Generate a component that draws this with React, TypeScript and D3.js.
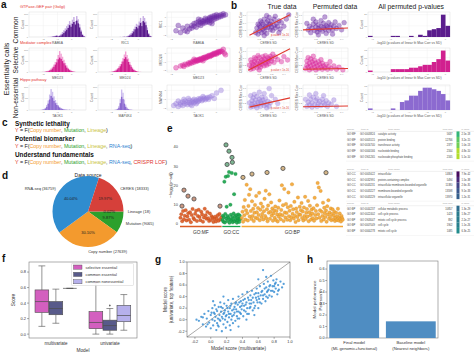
import React from 'react';
import * as d3 from 'd3';

const FONT = '"Liberation Sans", Arial, Helvetica, sans-serif';

type Pt = [number, number];
const parsePts = (s: string): Pt[] =>
  s.trim().split(/\s+/).map(p => p.split(',').map(Number) as Pt);
const parseNums = (s: string): number[] => s.trim().split(/\s+/).map(Number);

// ---------------- panel a: gene effect histograms + gene/gene scatter
const aRowTitles = ['GTPase-GEF pair (Golgi)', 'Mediator complex', 'Hippo pathway'];
const aRowCalls = ['Common', 'Selective', 'Non-essential'];
const aGeneX = ['RAB6A', 'MED23', 'TAOK1'];
const aGeneY = ['RIC1', 'MED24', 'MAP4K4'];

const rab6aDark = [0,0,0,0,0,0,0,0,0,0, 0,0,0,0,0,0,1,2,3,5, 2,4,7,12,18,25,32,40,52,45, 58,66,55,72,60,42,24,9,3,0];
const rab6aLight = [0,0,0,0,0,0,0,0,0,0, 0,0,0,1,1,2,3,4,6,8, 5,8,14,22,30,38,48,56,70,60, 76,88,70,92,78,56,32,14,5,1];
const ric1Dark = [0,0,0,0,0,0,0,0,0,0, 0,0,0,0,0,0,0,0,0,1, 0,1,3,6,10,16,24,34,44,38, 50,62,48,70,64,52,30,12,4,1];
const ric1Light = [0,0,0,0,0,0,0,0,0,0, 0,0,0,0,0,0,1,0,2,1, 2,4,7,12,18,26,36,46,58,54, 68,84,66,92,84,68,42,18,6,2];
const med23Dark = [0,0,0,0,0,0,0,0,0,0, 0,1,2,3,6,10,16,24,34,44, 58,66,60,50,40,30,20,13,8,4, 2,1,0,0,0,0,0,0,0,0];
const med23Light = [0,0,0,0,0,0,0,0,0,1, 1,2,4,6,10,16,24,34,46,60, 78,96,84,70,56,42,30,19,12,7, 4,2,1,0,0,0,0,0,0,0];
const med24Dark = [0,0,0,0,0,0,0,0,0,0, 1,2,4,7,12,18,26,36,48,60, 68,58,46,34,24,15,9,5,3,1, 0,0,0,0,0,0,0,0,0,0];
const med24Light = [0,0,0,0,0,0,0,0,1,1, 2,4,7,12,18,26,36,48,64,80, 94,78,62,46,32,21,13,8,4,2, 1,1,0,0,0,0,0,0,0,0];
const taok1Dark = [0,0,0,0,0,0,0,0,0,1, 2,6,14,28,46,62,54,40,30,22, 16,10,6,4,2,1,1,0,1,0, 0,0,0,0,0,0,0,0,0,0];
const taok1Light = [0,0,0,0,0,0,0,0,1,2, 4,10,22,42,68,92,80,60,44,32, 22,14,9,6,3,2,1,1,1,0, 0,1,0,0,0,0,0,0,0,0];
const map4k4Dark = [0,0,0,0,0,0,0,0,0,0, 0,0,0,1,3,10,30,58,48,28, 14,6,3,1,1,0,0,0,0,0, 0,0,0,0,0,0,0,0,0,0];
const map4k4Light = [0,0,0,0,0,0,0,0,0,0, 0,0,1,2,6,18,48,90,76,46, 24,11,5,2,1,1,0,0,0,0, 0,0,0,0,0,0,0,0,0,0];

const rab6aVsRic1 = parsePts(`-1.8,-1.5 -1.6,-1.7 -1.5,-1.2 -1.4,-1.5 -1.3,-1.0 -1.2,-1.3 -1.1,-0.9 -1.1,-1.2
-1.0,-0.7 -1.0,-1.0 -0.9,-1.1 -0.9,-0.6 -0.8,-0.8 -0.8,-0.5 -0.7,-0.9 -0.7,-0.6 -0.7,-0.3 -0.6,-0.7
-0.6,-0.4 -0.6,-0.5 -0.5,-0.6 -0.5,-0.3 -0.5,-0.1 -0.4,-0.5 -0.4,-0.2 -0.4,-0.4 -0.3,-0.3 -0.3,0.0
-0.3,-0.1 -0.2,-0.4 -0.2,-0.1 -0.2,0.1 -0.1,-0.2 -0.1,0.0 -0.1,0.2 0.0,-0.1 0.0,0.1 0.0,0.3 0.1,0.0
0.1,0.2 0.2,0.1 0.2,0.3 0.3,0.2 0.3,0.4 -1.7,-0.9 -0.2,-0.7 0.4,0.3 -1.3,-1.6 -0.8,-0.2 -0.3,-0.6`);
const med23VsMed24 = parsePts(`-1.6,-1.5 -1.5,-1.4 -1.45,-1.55 -1.4,-1.3 -1.3,-1.35 -1.25,-1.15 -1.2,-1.25
-1.15,-1.05 -1.1,-1.15 -1.05,-0.95 -1.0,-1.05 -0.95,-0.85 -0.9,-0.95 -0.9,-0.8 -0.85,-0.9 -0.8,-0.75
-0.8,-0.85 -0.75,-0.7 -0.7,-0.8 -0.7,-0.65 -0.65,-0.7 -0.6,-0.55 -0.6,-0.65 -0.55,-0.5 -0.5,-0.6
-0.5,-0.45 -0.45,-0.5 -0.4,-0.35 -0.4,-0.45 -0.35,-0.3 -0.3,-0.4 -0.3,-0.25 -0.25,-0.3 -0.2,-0.15
-0.2,-0.25 -0.15,-0.1 -0.1,-0.15 -0.1,0.0 -0.05,-0.05 0.0,0.05 0.0,-0.1 0.05,0.1 0.1,0.05 0.1,0.2
0.15,0.15 0.2,0.25 0.25,0.2 0.35,0.0 0.4,-0.2 0.3,0.45 -1.8,-1.7 -1.0,-0.7 -0.6,-0.9`);
const taok1VsMap4k4 = parsePts(`-1.9,-1.7 -1.8,-1.5 -1.7,-1.8 -1.6,-1.4 -1.6,-1.6 -1.5,-1.3 -1.5,-1.7 -1.4,-1.5
-1.4,-1.2 -1.3,-1.6 -1.3,-1.35 -1.2,-1.4 -1.2,-1.1 -1.15,-1.55 -1.1,-1.3 -1.05,-1.15 -1.0,-1.4 -1.0,-1.0
-0.95,-1.25 -0.9,-1.1 -0.85,-1.3 -0.8,-0.95 -0.8,-1.2 -0.75,-1.05 -0.7,-0.9 -0.65,-1.15 -0.6,-1.0
-0.55,-0.85 -0.5,-1.05 -0.45,-0.9 -0.4,-0.8 -0.35,-1.0 -0.3,-0.75 -1.7,-1.2 -1.25,-0.9 -0.9,-1.5
-0.6,-0.7 -1.45,-1.0 -1.1,-1.7 -0.2,-0.6 0.0,-0.3 0.2,0.0 -0.1,-0.9`);

// ---------------- panel b: CERES SD vs max correlation, true and permuted
const bTitles = ['True data', 'Permuted data', 'All permuted p-values'];
const trueCommon = parsePts(`0.17,0.12 0.18,0.25 0.19,0.08 0.2,0.32 0.2,0.18 0.21,0.27 0.22,0.4 0.22,0.12
0.23,0.22 0.23,0.35 0.24,0.5 0.24,0.16 0.25,0.3 0.25,0.26 0.26,0.4 0.26,0.1 0.27,0.46 0.27,0.26 0.28,0.34
0.28,0.55 0.29,0.2 0.29,0.36 0.3,0.28 0.3,0.44 0.31,0.18 0.32,0.32 0.32,0.5 0.33,0.25 0.34,0.38 0.35,0.3
0.36,0.45 0.37,0.22 0.38,0.4 0.4,0.3 0.42,0.5 0.21,0.45 0.19,0.36 0.26,0.6 0.33,0.58 0.24,0.04 0.36,0.12 0.44,0.62`);
const trueSelective = parsePts(`0.13,0.08 0.14,0.15 0.15,0.22 0.15,0.1 0.16,0.3 0.17,0.18 0.17,0.38 0.18,0.25
0.18,0.12 0.19,0.32 0.2,0.2 0.2,0.42 0.21,0.28 0.21,0.14 0.22,0.35 0.22,0.22 0.23,0.45 0.23,0.3 0.24,0.18
0.24,0.38 0.25,0.26 0.25,0.48 0.26,0.34 0.26,0.2 0.27,0.42 0.27,0.3 0.28,0.38 0.28,0.24 0.29,0.46 0.3,0.32
0.3,0.4 0.32,0.28 0.33,0.44 0.35,0.36 0.14,0.28 0.16,0.42 0.19,0.48 0.12,0.2 0.13,0.35 0.2,0.06 0.38,0.3
0.4,0.45 0.43,0.35 0.31,0.52`);
const trueNonEss = parsePts(`0.13,0.08 0.14,0.16 0.14,0.26 0.15,0.1 0.15,0.34 0.16,0.2 0.17,0.12 0.17,0.28
0.18,0.38 0.18,0.06 0.19,0.22 0.19,0.15 0.2,0.3 0.21,0.1 0.21,0.24 0.22,0.18 0.22,0.36 0.23,0.28 0.24,0.12
0.24,0.2 0.25,0.32 0.26,0.16 0.27,0.24 0.28,0.1 0.29,0.2 0.16,0.44 0.2,0.5 0.24,0.46 0.28,0.6 0.3,0.4
0.33,0.3 0.12,0.2 0.13,0.4 0.26,0.06 0.35,0.18`);
const permCommon = parsePts(`0.14,0.2 0.15,0.3 0.16,0.12 0.17,0.25 0.18,0.36 0.19,0.18 0.2,0.28 0.2,0.42
0.21,0.14 0.22,0.24 0.22,0.34 0.23,0.2 0.24,0.3 0.24,0.46 0.25,0.16 0.26,0.26 0.26,0.38 0.27,0.22 0.28,0.32
0.28,0.1 0.29,0.28 0.3,0.4 0.3,0.18 0.31,0.26 0.32,0.34 0.33,0.2 0.34,0.3 0.35,0.42 0.36,0.24 0.38,0.32
0.13,0.38 0.18,0.5 0.27,0.56 0.33,0.08 0.4,0.2 0.42,0.4 0.22,0.06`);
const permSelective = parsePts(`0.12,0.1 0.13,0.2 0.13,0.32 0.14,0.14 0.15,0.26 0.15,0.06 0.16,0.38 0.16,0.18
0.17,0.3 0.17,0.1 0.18,0.22 0.19,0.34 0.19,0.14 0.2,0.26 0.2,0.06 0.21,0.18 0.22,0.3 0.22,0.1 0.23,0.22
0.24,0.14 0.25,0.26 0.25,0.08 0.26,0.18 0.27,0.12 0.28,0.22 0.29,0.08 0.3,0.16 0.32,0.1 0.34,0.18 0.36,0.08
0.38,0.14 0.41,0.06 0.14,0.42 0.18,0.46 0.24,0.36 0.31,0.3`);
const permNonEss = parsePts(`0.13,0.1 0.14,0.22 0.15,0.14 0.16,0.3 0.17,0.08 0.17,0.2 0.18,0.36 0.19,0.14
0.2,0.26 0.21,0.1 0.21,0.32 0.22,0.18 0.23,0.24 0.24,0.12 0.25,0.3 0.26,0.2 0.27,0.14 0.28,0.26 0.29,0.1
0.3,0.2 0.32,0.16 0.15,0.42 0.2,0.46 0.26,0.4 0.34,0.28 0.12,0.3 0.36,0.1`);
const trueFits = [[0.12, 0.05, 0.45, 0.62], [0.11, 0.05, 0.45, 0.68], [0.12, 0.08, 0.45, 0.34]];
const permFits = [[0.1, 0.2, 0.45, 0.25], [0.1, 0.08, 0.45, 0.1], [0.1, 0.09, 0.45, 0.11]];
const pHistCommon = [1,0,0,0,0,1,1,0,0,1,0,2,1,6,7,8,20,10];
const pHistSelective = [1,0,0,0,0,2,2,2,2,3,3,4,5,5,7,9,15,8];
const pHistNonEss = [1,0,0,0,0,1,0,5,6,9,9,12,14,14,13,12,10,6];

// ---------------- panel c
const cTitles = ['Synthetic lethality', 'Potential biomarker', 'Understand fundamentals'];
const cFeatures = [
  ['Copy number', 'Mutation', 'Lineage'],
  ['Copy number', 'Mutation', 'Lineage', 'RNA-seq'],
  ['Copy number', 'Mutation', 'Lineage', 'RNA-seq', 'CRISPR LOF'],
];
const featureColors: Record<string, string> = {
  'Copy number': '#f39a2e', Mutation: '#2ca02c', Lineage: '#c8c23c', 'RNA-seq': '#2f7fd0', 'CRISPR LOF': '#e0342c',
};

// ---------------- panel d
const pieSources = ['Mutation', 'Copy number', 'RNA-seq', 'CERES', 'Lineage'];
const pieCounts = [9065, 27639, 36759, 18333, 18];
const pieColors = ['#2ca02c', '#f39a2e', '#2f8ccf', '#d6403a', '#9467bd'];

// ---------------- panel e
const goGroups = ['GO:MF', 'GO:CC', 'GO:BP'];
const goColors = ['#dc5a22', '#17a34a', '#f4a532'];
const goOrderSpan = [[0, 1380], [1400, 2000], [2040, 5400]];
const goMF = parseNums(`3.2 5.1 1.4 6.8 2.5 4.3 7.2 1.8 3.9 5.6 2.2 6.1 0.9 4.7 7.8 3.1 2.4 5.3 6.9 1.6
4.1 7.4 3.6 2.0 6.4 5.0 1.2 3.4 7.9 4.5 2.7 6.2 3.0 1.5 5.4 2.1 4.0 3.3 1.1 2.6 3.8 1.3 2.9 4.6 1.7 5.2 2.3 3.5`);
const goCC = parseNums(`2.1 4.3 1.2 3.5 22 0.8 5.2 24.5 2.8 9 1.5 4.1 25 3.2 27 0.6 2.4 10 4.8 1.9 26.5
3.7 0.9 2.6 5.5 15.5 1.4 3.9 26 2.2 4.6 0.7 3.1 1.8 5 2.9 1.1 4.4 2.5`);
const goBP = parseNums(`3.1 6.4 1.2 8.8 4.5 12.5 2.3 7.1 20.4 5.6 1.8 9.4 15.2 3.9 18.1 6.7 2.6 11.8 4.2 7.9
1.5 5.8 9.9 3.3 14.6 6.1 2.9 8.3 4.7 16.2 1.9 7.4 10.6 3.6 5.2 8.9 2.4 6.6 13.1 4.1
17.3 3.0 7.7 1.4 9.6 5.9 15.4 2.7 6.3 11.2 4.4 8.1 1.7 5.5 7.0 3.2 9.1 2.1 6.8 4.9
1.3 8.5 3.8 12.2 5.1 2.5 7.3 20.1 4.6 9.8 1.6 18.2 6.0 3.4 10.4 5.7 2.2 8.7 16.4 4.0
6.9 1.9 9.3 3.5 20.6 5.3 7.6 2.8 11.5 4.3 1.1 8.0 6.2 3.7 13.8 2.0 5.0 9.0 4.8 7.2
10.9 3.1 6.5 1.8 8.6 4.2 14.1 2.6 5.9 7.8 3.9 12.0 1.4 6.1 9.5 4.5 2.3 7.5 5.4 3.0
8.2 1.7 13.6 4.7 6.7 2.9 9.7 21.3 5.1 19.0 3.3 7.1 17.2 1.5 6.3 4.1 11.1 2.4 8.4 5.6
3.6 7.0 1.2 9.2 4.9 12.3 2.7 6.0 3.8 8.1 1.9 5.2 7.6 2.5 4.4 6.4 1.6 3.2 5.8 2.1
4.0 7.9 1.8 3.4 5.5 2.6 1.3 4.2 3.0 2.2`);
// source, term id, term name, term size, adjusted p-value, term order
const goTableMF: [string, string, string, number, string, number][] = [
  ['GO:MF', 'GO:0003824', 'catalytic activity', 5637, '2.5e-18', 132],
  ['GO:MF', 'GO:0005515', 'protein binding', 12766, '3.2e-15', 265],
  ['GO:MF', 'GO:0016740', 'transferase activity', 2377, '1.0e-13', 464],
  ['GO:MF', 'GO:0000166', 'nucleotide binding', 2164, '4.8e-10', 66],
  ['GO:MF', 'GO:1901265', 'nucleoside phosphate binding', 2165, '5.1e-10', 1325],
];
const goTableCC: [string, string, string, number, string, number][] = [
  ['GO:CC', 'GO:0005622', 'intracellular', 14803, '7.9e-42', 1524],
  ['GO:CC', 'GO:0032991', 'protein-containing complex', 5494, '1.5e-38', 1623],
  ['GO:CC', 'GO:0043231', 'intracellular membrane-bounded organelle', 11380, '2.6e-35', 1723],
  ['GO:CC', 'GO:0043227', 'membrane-bounded organelle', 13598, '9.1e-33', 1735],
  ['GO:CC', 'GO:0043229', 'intracellular organelle', 13970, '1.2e-31', 1560],
];
const goTableBP: [string, string, string, number, string, number][] = [
  ['GO:BP', 'GO:0044237', 'cellular metabolic process', 10857, '1.3e-29', 3411],
  ['GO:BP', 'GO:0022402', 'cell cycle process', 1423, '1.8e-27', 2883],
  ['GO:BP', 'GO:1903047', 'mitotic cell cycle process', 892, '2.2e-27', 4837],
  ['GO:BP', 'GO:0007049', 'cell cycle', 1902, '1.1e-26', 2385],
  ['GO:BP', 'GO:0000278', 'mitotic cell cycle', 1085, '6.3e-25', 2086],
];

// ---------------- panel f: [lower whisker, q1, median, q3, upper whisker]
const fModels = ['multivariate', 'univariate'];
const fTypes = ['selective essential', 'common essential', 'common nonessential'];
const fTypeColors = ['#d35fbf', '#585a8a', '#b6b0ec'];
const fMultivariate = [[0.10, 0.28, 0.42, 0.57, 0.88], [0.14, 0.25, 0.33, 0.42, 0.58], [0.59, 0.59, 0.59, 0.59, 0.59]];
const fUnivariate = [[0.0, 0.07, 0.15, 0.29, 0.66], [0.0, 0.05, 0.11, 0.18, 0.33], [0.05, 0.16, 0.24, 0.37, 0.51]];
const fOutliers = [{ model: 1, type: 1, value: 0.37 }];

// ---------------- panel g
const gScores = parsePts(`-0.15,-0.02 -0.12,0.05 -0.1,-0.08 -0.08,0.1 -0.06,-0.12 -0.05,0.02 -0.03,0.15
-0.02,-0.05 0.0,0.08 0.0,-0.15 0.02,0.0 0.02,0.2 0.03,-0.1 0.04,0.12 0.05,-0.02 0.05,0.25 0.06,0.05
0.07,-0.18 0.08,0.15 0.08,-0.06 0.09,0.02 0.1,0.22 0.1,-0.12 0.11,0.08 0.12,0.3 0.12,-0.02 0.13,0.14
0.14,-0.2 0.14,0.05 0.15,0.2 0.16,-0.08 0.16,0.1 0.17,0.28 0.18,0.0 0.18,0.16 0.19,-0.14 0.2,0.08
0.2,0.24 0.21,-0.04 0.22,0.14 0.22,0.34 0.23,0.04 0.24,0.2 0.24,-0.1 0.25,0.1 0.26,0.28 0.26,0.0
0.27,0.16 0.28,-0.06 0.28,0.36 0.29,0.08 0.3,0.22 0.3,0.12 0.31,-0.02 0.32,0.3 0.32,0.18 0.33,0.06
0.34,0.26 0.35,0.14 0.35,0.4 0.36,0.02 0.37,0.22 0.38,0.32 0.38,0.1 0.39,0.18 0.4,0.28 0.4,0.44
0.41,0.06 0.42,0.24 0.43,0.36 0.44,0.14 0.45,0.3 0.46,0.2 0.46,0.48 0.47,0.38 0.48,0.1 0.49,0.28
0.5,0.42 0.5,0.22 0.51,0.34 0.52,0.5 0.53,0.16 0.54,0.3 0.55,0.44 0.56,0.24 0.57,0.38 0.58,0.54
0.59,0.3 0.6,0.46 0.6,0.2 0.61,0.36 0.62,0.58 0.63,0.42 0.64,0.28 0.65,0.5 0.66,0.86 0.66,0.36
0.67,0.62 0.68,0.44 0.69,0.32 0.7,0.56 0.71,0.48 0.72,0.38 0.72,0.66 0.73,0.52 0.74,0.42 0.75,0.6
0.76,0.76 0.76,0.5 0.77,0.4 0.78,0.58 0.79,0.68 0.8,0.48 0.81,0.62 0.82,0.54 0.83,0.7 0.84,0.44
0.85,0.6 0.86,0.52 0.88,0.66 0.9,0.56 0.92,0.62 0.55,0.08 0.45,0.0 0.35,-0.12 0.25,-0.18 -0.18,0.0
0.03,0.32 0.16,0.4 0.6,0.7 0.7,0.74 0.05,0.1 0.07,0.18 0.09,-0.1 0.11,0.0 0.13,0.22 0.15,0.02
0.17,0.12 0.19,0.06 0.21,0.2 0.23,0.1 0.25,0.24 0.27,0.06 0.29,0.18 0.31,0.28 0.33,0.14 0.34,0.02
0.36,0.3 0.37,0.12 0.39,0.24 0.41,0.34 0.42,0.16 0.44,0.26 0.46,0.1 0.48,0.34 0.49,0.2 0.51,0.28
0.53,0.38 0.55,0.2 0.57,0.46 0.58,0.34 0.6,0.4 0.62,0.3 0.64,0.48 0.66,0.42 0.68,0.54 0.7,0.4
0.72,0.5 0.74,0.58 0.78,0.5 0.8,0.58 0.82,0.64 0.85,0.5 -0.1,0.04 -0.04,-0.08 0.01,0.12`);

// ---------------- panel h
const hModels = [['Final model', '(ML genomic+functional)'], ['Baseline model', '(Nearest neighbors)']];
const hPearson = [0.64, 0.145];

// ---------------- layout
const ROWS: [number, number][] = [[12, 37], [48, 72], [85, 110]];
const rowDark = ['#5a1c8c', '#d1208f', '#8c6ad0'];
const rowLight = ['#c7aee3', '#f2a0d4', '#cbbcee'];
const rowPoint = ['#6b2aa3', '#d8259a', '#9c80dc'];
const fitRed = '#e03a2f';

type Scale = (v: number) => number;

function Frame(props: {
  box: number[]; xs: Scale; ys: Scale; xTicks: number[]; yTicks: number[];
  xLabel: string; yLabel: string; children?: React.ReactNode;
}) {
  const { box, xs, ys, xTicks, yTicks, xLabel, yLabel, children } = props;
  const fmt = d3.format('~g');
  const [x0, x1, y0, y1] = box;
  return (
    <g>
      <rect x={x0} y={y0} width={x1 - x0} height={y1 - y0} fill="#fff" stroke="#d6d6d6" strokeWidth={0.4} />
      {xTicks.map(t => <line key={'gx' + t} x1={xs(t)} x2={xs(t)} y1={y0} y2={y1} stroke="#ededed" strokeWidth={0.4} />)}
      {yTicks.map(t => <line key={'gy' + t} x1={x0} x2={x1} y1={ys(t)} y2={ys(t)} stroke="#ededed" strokeWidth={0.4} />)}
      {children}
      {xTicks.map(t => (
        <text key={'tx' + t} x={xs(t)} y={y1 + 3} fontSize={2.4} fill="#888" textAnchor="middle">{fmt(t)}</text>
      ))}
      {yTicks.map(t => (
        <text key={'ty' + t} x={x0 - 1} y={ys(t) + 0.8} fontSize={2.4} fill="#888" textAnchor="end">{fmt(t)}</text>
      ))}
      <text x={(x0 + x1) / 2} y={y1 + 6.6} fontSize={3.3} fill="#555" textAnchor="middle">{xLabel}</text>
      <text transform={`translate(${x0 - 5.2},${(y0 + y1) / 2}) rotate(-90)`} fontSize={3.3} fill="#555" textAnchor="middle">{yLabel}</text>
    </g>
  );
}

const histDomain = [-3, 1];
function Hist({ box, dark, light, cDark, cLight, xLabel }: {
  box: number[]; dark: number[]; light: number[]; cDark: string; cLight: string; xLabel: string;
}) {
  const [x0, x1, y0, y1] = box;
  const xs = d3.scaleLinear().domain(histDomain).range([x0, x1]);
  const ys = d3.scaleLinear().domain([0, 110]).range([y1, y0]);
  const bw = (histDomain[1] - histDomain[0]) / light.length;
  const bar = (v: number, i: number, fill: string) => (
    <rect key={i} x={xs(histDomain[0] + i * bw)} width={xs(bw) - xs(0) + 0.05} y={ys(v)} height={ys(0) - ys(v)} fill={fill} />
  );
  return (
    <Frame box={box} xs={xs} ys={ys} xTicks={[-2, -1, 0]} yTicks={[0, 50, 100]} xLabel={xLabel} yLabel="Count">
      <g>{light.map((v, i) => bar(v, i, cLight))}</g>
      <g>{dark.map((v, i) => bar(v, i, cDark))}</g>
    </Frame>
  );
}

function Scatter(props: {
  box: number[]; points: Pt[]; xd: number[]; yd: number[]; xTicks: number[]; yTicks: number[];
  color: string; r: number; opacity: number; xLabel: string; yLabel: string; fit?: number[]; note?: string;
}) {
  const { box, points, xd, yd, color, r, opacity, fit, note } = props;
  const [x0, x1, y0, y1] = box;
  const xs = d3.scaleLinear().domain(xd).range([x0, x1]);
  const ys = d3.scaleLinear().domain(yd).range([y1, y0]);
  return (
    <Frame box={box} xs={xs} ys={ys} xTicks={props.xTicks} yTicks={props.yTicks} xLabel={props.xLabel} yLabel={props.yLabel}>
      {points.map(([px, py], i) => (
        <circle key={i} cx={xs(px)} cy={ys(py)} r={r} fill={color} fillOpacity={opacity}
          stroke={color} strokeOpacity={Math.min(1, opacity * 1.6)} strokeWidth={0.3} />
      ))}
      {fit && <line x1={xs(fit[0])} y1={ys(fit[1])} x2={xs(fit[2])} y2={ys(fit[3])} stroke={fitRed} strokeWidth={1.1} />}
      {note && <text x={x1 - 1} y={y1 - 1.5} fontSize={2.6} fill={fitRed} textAnchor="end">{note}</text>}
    </Frame>
  );
}

const pHistDomain = [-8.5, 0.5];
function PHist({ box, counts, color }: { box: number[]; counts: number[]; color: string }) {
  const [x0, x1, y0, y1] = box;
  const xs = d3.scaleLinear().domain(pHistDomain).range([x0, x1]);
  const ys = d3.scaleLinear().domain([0, (d3.max(counts) || 1) * 1.12]).range([y1, y0]);
  const bw = (pHistDomain[1] - pHistDomain[0]) / counts.length;
  return (
    <Frame box={box} xs={xs} ys={ys} xTicks={[-8, -6, -4, -2, 0]} yTicks={ys.ticks(3)}
      xLabel="-log10 (p-values of linear fit Max Corr vs SD)" yLabel="Count">
      {counts.map((c, i) => (
        <rect key={i} x={xs(pHistDomain[0] + i * bw)} width={xs(bw) - xs(0) + 0.05} y={ys(c)} height={ys(0) - ys(c)} fill={color} />
      ))}
    </Frame>
  );
}

function PanelA() {
  const hists = [[rab6aDark, rab6aLight, ric1Dark, ric1Light], [med23Dark, med23Light, med24Dark, med24Light],
    [taok1Dark, taok1Light, map4k4Dark, map4k4Light]];
  const clouds = [rab6aVsRic1, med23VsMed24, taok1VsMap4k4];
  const callCenters = [30, 60, 98];
  return (
    <g>
      {aRowTitles.map((t, r) => (
        <text key={t} x={20} y={ROWS[r][0] - 4} fontSize={4} fill="#e5322b">{t}</text>
      ))}
      <text transform="translate(9,69) rotate(-90)" fontSize={7.2} textAnchor="middle" fill="#222">Essentiality calls</text>
      {aRowCalls.map((c, r) => (
        <text key={c} transform={`translate(18,${callCenters[r]}) rotate(-90)`} fontSize={6.6} textAnchor="middle" fill="#222">{c}</text>
      ))}
      {aRowCalls.map((_, r) => (
        <g key={r}>
          <Hist box={[29, 86, ...ROWS[r]]} dark={hists[r][0]} light={hists[r][1]} cDark={rowDark[r]} cLight={rowLight[r]} xLabel={aGeneX[r]} />
          <Hist box={[98, 152, ...ROWS[r]]} dark={hists[r][2]} light={hists[r][3]} cDark={rowDark[r]} cLight={rowLight[r]} xLabel={aGeneY[r]} />
          <Scatter box={[167, 230, ...ROWS[r]]} points={clouds[r]} xd={[-2.2, 0.6]} yd={[-2.2, 0.6]} xTicks={[-2, -1, 0]} yTicks={[-2, -1, 0]}
            color={rowPoint[r]} r={2.5} opacity={0.45} xLabel={aGeneX[r]} yLabel={aGeneY[r]} />
        </g>
      ))}
    </g>
  );
}

function PanelB() {
  const trues = [trueCommon, trueSelective, trueNonEss];
  const perms = [permCommon, permSelective, permNonEss];
  const phists = [pHistCommon, pHistSelective, pHistNonEss];
  const titleX = [282, 335, 411];
  return (
    <g>
      {bTitles.map((t, i) => (
        <text key={t} x={titleX[i]} y={8.5} fontSize={6.8} textAnchor="middle" fill="#222">{t}</text>
      ))}
      {trues.map((_, r) => (
        <g key={r}>
          <Scatter box={[247, 290, ...ROWS[r]]} points={trues[r]} xd={[0.1, 0.45]} yd={[0, 0.7]} xTicks={[0.2, 0.3, 0.4]} yTicks={[0.2, 0.4, 0.6]}
            color={rowPoint[r]} r={2.4} opacity={0.45} xLabel="CERES SD" yLabel="CERES Max Corr" fit={trueFits[r]} note="p-value < 1e-16" />
          <Scatter box={[303, 348, ...ROWS[r]]} points={perms[r]} xd={[0.1, 0.45]} yd={[0, 0.7]} xTicks={[0.2, 0.3, 0.4]} yTicks={[0.2, 0.4, 0.6]}
            color={rowPoint[r]} r={2.4} opacity={0.45} xLabel="CERES SD" yLabel="CERES Max Corr" fit={permFits[r]} />
          <PHist box={[368, 450, ...ROWS[r]]} counts={phists[r]} color={rowDark[r]} />
        </g>
      ))}
    </g>
  );
}

function PanelC() {
  const ys = [125.5, 141, 157];
  return (
    <g>
      {cTitles.map((t, i) => (
        <g key={t}>
          <text x={15} y={ys[i]} fontSize={6.4} fontWeight="bold" fill="#111">{t}</text>
          <text x={15} y={ys[i] + 6.8} fontSize={5.3} fill="#222">
            <tspan fill="#e0342c">Y</tspan>
            <tspan> = F(</tspan>
            {cFeatures[i].map((f, j) => (
              <React.Fragment key={f}>
                {j > 0 && <tspan>, </tspan>}
                <tspan fill={featureColors[f]}>{f}</tspan>
              </React.Fragment>
            ))}
            <tspan>)</tspan>
          </text>
        </g>
      ))}
    </g>
  );
}

function PanelD() {
  const cx = 88, cy = 211.5, r = 35.5;
  const total = d3.sum(pieCounts);
  const arcs = d3.pie<number>().sort(null).startAngle(Math.PI / 2).endAngle(Math.PI / 2 + 2 * Math.PI)(pieCounts);
  const arc = d3.arc<d3.PieArcDatum<number>>().innerRadius(0).outerRadius(r);
  const at = (a: d3.PieArcDatum<number>, k: number): Pt => {
    const m = (a.startAngle + a.endAngle) / 2;
    return [cx + Math.sin(m) * r * k, cy - Math.cos(m) * r * k];
  };
  return (
    <g>
      <text x={cx} y={177} fontSize={5} textAnchor="middle" fill="#222">Data source</text>
      <g transform={`translate(${cx},${cy})`}>
        {arcs.map((a, i) => <path key={i} d={arc(a) || ''} fill={pieColors[i]} />)}
      </g>
      {arcs.map((a, i) => {
        const [px, py] = at(a, 0.6);
        return <text key={'p' + i} x={px} y={py + 1.4} fontSize={4} textAnchor="middle" fill="#222">
          {(pieCounts[i] / total * 100).toFixed(2)}%</text>;
      })}
      {arcs.map((a, i) => {
        const [lx, ly] = at(a, 1.12);
        const m = (a.startAngle + a.endAngle) / 2;
        return <text key={'l' + i} x={lx} y={ly + 1.6} fontSize={4} textAnchor={Math.sin(m) >= -1e-6 ? 'start' : 'end'} fill="#333">
          {pieSources[i]} ({pieCounts[i]})</text>;
      })}
    </g>
  );
}

function PanelE() {
  const xs = d3.scaleLinear().domain([0, 5400]).range([180, 343]);
  const ys = d3.scaleLinear().domain([0, 40]).range([224, 147]);
  const series = [goMF, goCC, goBP];
  const tables = [goTableMF, goTableCC, goTableBP];
  return (
    <g>
      {[0, 10, 20, 30, 40].map(t => (
        <text key={t} x={178} y={ys(t) + 1.4} fontSize={4} textAnchor="end" fill="#444">{t}</text>
      ))}
      <text transform="translate(171.5,185) rotate(-90)" fontSize={4.4} textAnchor="middle" fill="#333">
        −log<tspan fontSize={3} dy={1}>10</tspan><tspan dy={-1}>(p−adj)</tspan>
      </text>
      {series.map((vals, g) => {
        const [a, b] = goOrderSpan[g];
        const edge = d3.color(goColors[g])!.darker(0.6).formatHex();
        return (
          <g key={g}>
            {vals.map((v, i) => (
              <circle key={i} cx={xs(a + (i + 0.5) / vals.length * (b - a))} cy={ys(v)} r={1.75}
                fill={goColors[g]} fillOpacity={0.9} stroke={edge} strokeWidth={0.25} />
            ))}
            <line x1={xs(a)} x2={xs(b)} y1={226.5} y2={226.5} stroke={goColors[g]} strokeWidth={1.3} />
            <text x={xs((a + b) / 2)} y={233.5} fontSize={4.8} textAnchor="middle" fill="#333">{goGroups[g]}</text>
          </g>
        );
      })}
      {tables.map((rows, g) => (
        <g key={'h' + g}>
          {rows.map(row => (
            <circle key={row[1]} cx={xs(row[5])} cy={ys(-Math.log10(Number(row[4])))} r={2.1}
              fill={d3.color(goColors[g])!.darker(0.9).formatHex()} fillOpacity={0.55} stroke="#4a4a4a" strokeWidth={0.8} />
          ))}
        </g>
      ))}
    </g>
  );
}

function GoTables() {
  const tables = [goTableMF, goTableCC, goTableBP];
  const tops = [130, 170, 204.3];
  const color = d3.scaleSequential((t: number) => d3.interpolateViridis(1 - t)).domain([5, 42]);
  const step = 5.55;
  return (
    <g fontSize={2.6}>
      {tables.map((rows, g) => {
        const top = tops[g];
        return (
          <g key={g}>
            <text x={347} y={top} fill="#999" fontSize={2.4}>source</text>
            <text x={361} y={top} fill="#999" fontSize={2.4}>term id</text>
            <text x={394} y={top} fill="#999" fontSize={2.4} textAnchor="middle">term name</text>
            <text x={452.5} y={top} fill="#999" fontSize={2.4} textAnchor="end">term size</text>
            <text x={461.5} y={top} fill="#999" fontSize={2.4}>p-value</text>
            <line x1={346} x2={474} y1={top + 1.4} y2={top + 1.4} stroke="#d0d0d0" strokeWidth={0.3} />
            {rows.map((row, i) => {
              const y = top + 5.3 + i * step;
              return (
                <g key={row[1]}>
                  <text x={347} y={y} fill="#444">{row[0]}</text>
                  <text x={360} y={y} fill="#444">{row[1]}</text>
                  <text x={378} y={y} fill="#444">{row[2]}</text>
                  <text x={452.5} y={y} fill="#444" textAnchor="end">{row[3]}</text>
                  <rect x={456.5} y={y - 3.9} width={3} height={step} fill={color(-Math.log10(Number(row[4])))} />
                  <text x={461.5} y={y} fill="#444">{row[4]}</text>
                </g>
              );
            })}
            <line x1={346} x2={474} y1={top + 3.4 + 5 * step} y2={top + 3.4 + 5 * step} stroke="#e0e0e0" strokeWidth={0.3} />
          </g>
        );
      })}
    </g>
  );
}

function PanelF() {
  const [x0, x1, y0, y1] = [29, 137, 262, 338];
  const xs = d3.scaleBand().domain(fModels).range([x0, x1]);
  const inner = d3.scaleBand().domain(fTypes).range([0, xs.bandwidth()]).paddingOuter(0.43);
  const ys = d3.scaleLinear().domain([-0.05, 0.93]).range([y1, y0]);
  const stats = [fMultivariate, fUnivariate];
  const edge = '#4d4d4d';
  return (
    <g>
      <rect x={x0} y={y0} width={x1 - x0} height={y1 - y0} fill="#fff" stroke="#7a7a7a" strokeWidth={0.6} />
      {[0, 0.2, 0.4, 0.6, 0.8].map(t => (
        <g key={t}>
          <line x1={x0 - 2} x2={x0} y1={ys(t)} y2={ys(t)} stroke="#555" strokeWidth={0.5} />
          <text x={x0 - 3} y={ys(t) + 1.4} fontSize={4} textAnchor="end" fill="#333">{t.toFixed(1)}</text>
        </g>
      ))}
      {fModels.map((m, mi) => (
        <g key={m}>
          {fTypes.map((tp, ti) => {
            const [lo, q1, med, q3, hi] = stats[mi][ti];
            const bx = (xs(m) || 0) + (inner(tp) || 0);
            const bwid = inner.bandwidth() * 0.98;
            const c = bx + bwid / 2;
            return (
              <g key={tp}>
                <line x1={c} x2={c} y1={ys(q3)} y2={ys(hi)} stroke={edge} strokeWidth={0.6} />
                <line x1={c} x2={c} y1={ys(q1)} y2={ys(lo)} stroke={edge} strokeWidth={0.6} />
                <line x1={c - bwid / 4} x2={c + bwid / 4} y1={ys(hi)} y2={ys(hi)} stroke={edge} strokeWidth={0.6} />
                <line x1={c - bwid / 4} x2={c + bwid / 4} y1={ys(lo)} y2={ys(lo)} stroke={edge} strokeWidth={0.6} />
                <rect x={bx} y={ys(q3)} width={bwid} height={Math.max(0, ys(q1) - ys(q3))} fill={fTypeColors[ti]} stroke={edge} strokeWidth={0.6} />
                <line x1={bx} x2={bx + bwid} y1={ys(med)} y2={ys(med)} stroke={edge} strokeWidth={0.7} />
              </g>
            );
          })}
          <text x={(xs(m) || 0) + xs.bandwidth() / 2} y={345} fontSize={4.5} textAnchor="middle" fill="#333">{m}</text>
        </g>
      ))}
      {fOutliers.map((o, i) => {
        const bx = (xs(fModels[o.model]) || 0) + (inner(fTypes[o.type]) || 0);
        return <path key={i} transform={`translate(${bx + inner.bandwidth() * 0.49},${ys(o.value)})`} d="M0,-1.2L0.9,0L0,1.2L-0.9,0Z" fill="#4d4d4d" />;
      })}
      <text x={(x0 + x1) / 2} y={351.5} fontSize={4.8} textAnchor="middle" fill="#333">Model</text>
      <text transform={`translate(15,${(y0 + y1) / 2}) rotate(-90)`} fontSize={4.8} textAnchor="middle" fill="#333">Score</text>
      <rect x={71.5} y={263.5} width={62} height={22} fill="#fff" fillOpacity={0.9} stroke="#cfcfcf" strokeWidth={0.5} rx={0.8} />
      {fTypes.map((tp, i) => (
        <g key={tp}>
          <rect x={73.5} y={265 + i * 7.3} width={8.5} height={4.2} fill={fTypeColors[i]} stroke={edge} strokeWidth={0.4} />
          <text x={85.5} y={268.6 + i * 7.3} fontSize={3.9} fill="#333">{tp}</text>
        </g>
      ))}
    </g>
  );
}

function PanelG() {
  const [x0, x1, y0, y1] = [187, 290, 262, 337];
  const xs = d3.scaleLinear().domain([-0.3, 1.0]).range([x0, x1]);
  const ys = d3.scaleLinear().domain([-0.3, 1.0]).range([y1, y0]);
  const ticks = [-0.2, 0, 0.2, 0.4, 0.6, 0.8, 1.0];
  return (
    <g>
      <rect x={x0} y={y0} width={x1 - x0} height={y1 - y0} fill="#fff" stroke="#6a6a6a" strokeWidth={0.6} />
      <line x1={xs(-0.3)} y1={ys(-0.3)} x2={xs(1)} y2={ys(1)} stroke="#555" strokeWidth={0.5} />
      {gScores.map(([u, v], i) => (
        <circle key={i} cx={xs(u)} cy={ys(v)} r={1.15} fill="#3b8fd4" fillOpacity={0.85} />
      ))}
      {ticks.map(t => (
        <g key={t}>
          <line x1={xs(t)} x2={xs(t)} y1={y1} y2={y1 + 1.8} stroke="#555" strokeWidth={0.5} />
          <text x={xs(t)} y={y1 + 5.5} fontSize={3.8} textAnchor="middle" fill="#333">{t.toFixed(1)}</text>
          <line x1={x0 - 1.8} x2={x0} y1={ys(t)} y2={ys(t)} stroke="#555" strokeWidth={0.5} />
          <text x={x0 - 2.5} y={ys(t) + 1.3} fontSize={3.8} textAnchor="end" fill="#333">{t.toFixed(1)}</text>
        </g>
      ))}
      <text x={(x0 + x1) / 2} y={350} fontSize={4.8} textAnchor="middle" fill="#333">Model score (multivariate)</text>
      <text transform={`translate(167,${(y0 + y1) / 2}) rotate(-90)`} fontSize={4.6} textAnchor="middle" fill="#333">Model score</text>
      <text transform={`translate(173,${(y0 + y1) / 2}) rotate(-90)`} fontSize={4.6} textAnchor="middle" fill="#333">(univariate, top feature)</text>
    </g>
  );
}

function PanelH() {
  const [x0, x1, y0, y1] = [327, 438, 261, 338];
  const xs = d3.scaleBand().domain(hModels.map(m => m[0])).range([x0, x1]).paddingInner(0.12).paddingOuter(0.04);
  const ys = d3.scaleLinear().domain([0, 0.67]).range([y1, y0]);
  return (
    <g>
      <rect x={x0} y={y0} width={x1 - x0} height={y1 - y0} fill="#fff" stroke="#7a7a7a" strokeWidth={0.6} />
      {hModels.map((m, i) => (
        <g key={m[0]}>
          <rect x={xs(m[0])} y={ys(hPearson[i])} width={xs.bandwidth()} height={ys(0) - ys(hPearson[i])} fill="#4f8dc2" />
          <text x={(xs(m[0]) || 0) + xs.bandwidth() / 2} y={344} fontSize={4.2} textAnchor="middle" fill="#333">{m[0]}</text>
          <text x={(xs(m[0]) || 0) + xs.bandwidth() / 2} y={349.5} fontSize={4.2} textAnchor="middle" fill="#333">{m[1]}</text>
        </g>
      ))}
      {[0, 0.1, 0.2, 0.3, 0.4, 0.5, 0.6].map(t => (
        <g key={t}>
          <line x1={x0 - 1.8} x2={x0} y1={ys(t)} y2={ys(t)} stroke="#555" strokeWidth={0.5} />
          <text x={x0 - 2.5} y={ys(t) + 1.3} fontSize={3.8} textAnchor="end" fill="#333">{t.toFixed(1)}</text>
        </g>
      ))}
      <text transform={`translate(316,${(y0 + y1) / 2}) rotate(-90)`} fontSize={4.4} textAnchor="middle" fill="#333">Model performance</text>
      <text transform={`translate(322,${(y0 + y1) / 2}) rotate(-90)`} fontSize={4.4} textAnchor="middle" fill="#333">
        Pearson's <tspan fontStyle="italic">r</tspan>
      </text>
    </g>
  );
}

const panelLetters: [string, number, number][] = [
  ['a', 1, 8], ['b', 231, 8.5], ['c', 2, 125.5], ['d', 2, 179], ['e', 167, 131.5], ['f', 2, 262], ['g', 155, 263], ['h', 307, 263],
];

export default function App() {
  return (
    <svg width={474} height={352} viewBox="0 0 474 352" fontFamily={FONT}
      style={{ position: 'absolute', left: 0, top: 0, background: '#fff' }}>
      <rect width={474} height={352} fill="#fff" />
      <PanelA />
      <PanelB />
      <PanelC />
      <PanelD />
      <PanelE />
      <GoTables />
      <PanelF />
      <PanelG />
      <PanelH />
      {panelLetters.map(([l, x, y]) => (
        <text key={l} x={x} y={y} fontSize={10} fontWeight="bold" fill="#111">{l}</text>
      ))}
    </svg>
  );
}
